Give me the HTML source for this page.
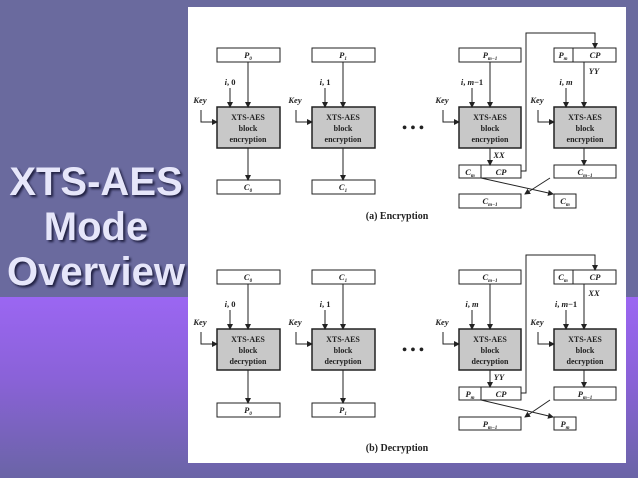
<!DOCTYPE html>
<html><head><meta charset="utf-8"><style>
html,body{margin:0;padding:0;}
body{width:638px;height:478px;overflow:hidden;position:relative;background:#6a6a9e;font-family:"Liberation Sans",sans-serif;}
.low{position:absolute;left:0;top:297px;width:638px;height:181px;background:linear-gradient(#9b66f2 0%,#8a62d8 45%,#6a64a6 100%);}
.title{position:absolute;left:0;top:160px;width:192px;text-align:center;color:#e6e6fa;font-weight:bold;font-size:40px;line-height:45px;text-shadow:2px 2px 2px #222244;}
svg{position:absolute;left:0;top:0;}
</style></head><body>
<div class="low"></div>
<div class="title">XTS-AES<br>Mode<br>Overview</div>
<svg width="638" height="478" viewBox="0 0 638 478" font-family="Liberation Serif, serif" font-weight="bold">
<defs><marker id="a" markerWidth="6" markerHeight="6" refX="5" refY="3" orient="auto" markerUnits="userSpaceOnUse"><path d="M0,0 L6,3 L0,6z" fill="#222"/></marker></defs>
<rect x="188" y="7" width="438" height="456" fill="#fff"/>
<g id="enc" stroke="#222" stroke-width="1" fill="none">
 <rect x="217" y="48" width="63" height="14"/><rect x="312" y="48" width="63" height="14"/>
 <rect x="459" y="48" width="62" height="14"/><rect x="554" y="48" width="62" height="14"/><line x1="573" y1="48" x2="573" y2="62"/>
 <rect x="217" y="107" width="63" height="41" fill="#c8c8c8" stroke-width="1.5"/><rect x="312" y="107" width="63" height="41" fill="#c8c8c8" stroke-width="1.5"/>
 <rect x="459" y="107" width="62" height="41" fill="#c8c8c8" stroke-width="1.5"/><rect x="554" y="107" width="62" height="41" fill="#c8c8c8" stroke-width="1.5"/>
 <rect x="217" y="180" width="63" height="14"/><rect x="312" y="180" width="63" height="14"/>
 <rect x="459" y="165" width="62" height="13"/><line x1="481" y1="165" x2="481" y2="178"/>
 <rect x="554" y="165" width="62" height="13"/>
 <rect x="459" y="194" width="62" height="14"/><rect x="554" y="194" width="22" height="14"/>
 <line x1="248" y1="62" x2="248" y2="107" marker-end="url(#a)"/><line x1="343" y1="62" x2="343" y2="107" marker-end="url(#a)"/>
 <line x1="490" y1="62" x2="490" y2="107" marker-end="url(#a)"/><line x1="584" y1="62" x2="584" y2="107" marker-end="url(#a)"/>
 <line x1="230" y1="88" x2="230" y2="107" marker-end="url(#a)"/><line x1="325" y1="88" x2="325" y2="107" marker-end="url(#a)"/>
 <line x1="472" y1="88" x2="472" y2="107" marker-end="url(#a)"/><line x1="566" y1="88" x2="566" y2="107" marker-end="url(#a)"/>
 <path d="M201,110 V122 H217" marker-end="url(#a)"/><path d="M296,110 V122 H312" marker-end="url(#a)"/>
 <path d="M443,110 V122 H459" marker-end="url(#a)"/><path d="M538,110 V122 H554" marker-end="url(#a)"/>
 <line x1="248" y1="148" x2="248" y2="180" marker-end="url(#a)"/><line x1="343" y1="148" x2="343" y2="180" marker-end="url(#a)"/>
 <line x1="490" y1="148" x2="490" y2="165" marker-end="url(#a)"/><line x1="584" y1="148" x2="584" y2="165" marker-end="url(#a)"/>
 <path d="M521,171 H526 V33 H595 V48" marker-end="url(#a)"/>
 <line x1="481" y1="178" x2="553" y2="194" marker-end="url(#a)"/><line x1="550" y1="178" x2="525" y2="194" marker-end="url(#a)"/>
</g>
<g font-size="8.5" fill="#222" text-anchor="middle">
 <text x="248" y="58" font-style="italic">P<tspan font-size="5" dy="2">0</tspan></text>
 <text x="343" y="58" font-style="italic">P<tspan font-size="5" dy="2">1</tspan></text>
 <text x="490" y="58" font-style="italic">P<tspan font-size="5" dy="2">m−1</tspan></text>
 <text x="563" y="58" font-style="italic">P<tspan font-size="5" dy="2">m</tspan></text>
 <text x="595" y="58" font-style="italic">CP</text>
 <text x="230" y="85"><tspan font-style="italic">i</tspan>, 0</text><text x="325" y="85"><tspan font-style="italic">i</tspan>, 1</text>
 <text x="472" y="85"><tspan font-style="italic">i</tspan>, <tspan font-style="italic">m</tspan>−1</text><text x="566" y="85"><tspan font-style="italic">i</tspan>, <tspan font-style="italic">m</tspan></text>
 <text x="594" y="74" font-style="italic">YY</text><text x="499" y="158" font-style="italic">XX</text>
 <text x="200" y="103" font-style="italic">Key</text><text x="295" y="103" font-style="italic">Key</text><text x="442" y="103" font-style="italic">Key</text><text x="537" y="103" font-style="italic">Key</text>
 <g font-size="8"><text x="248" y="120">XTS-AES</text><text x="248" y="131">block</text><text x="248" y="142">encryption</text>
 <text x="343" y="120">XTS-AES</text><text x="343" y="131">block</text><text x="343" y="142">encryption</text>
 <text x="490" y="120">XTS-AES</text><text x="490" y="131">block</text><text x="490" y="142">encryption</text>
 <text x="585" y="120">XTS-AES</text><text x="585" y="131">block</text><text x="585" y="142">encryption</text></g>
 <text x="248" y="190" font-style="italic">C<tspan font-size="5" dy="2">0</tspan></text><text x="343" y="190" font-style="italic">C<tspan font-size="5" dy="2">1</tspan></text>
 <text x="470" y="175" font-style="italic">C<tspan font-size="5" dy="2">m</tspan></text><text x="501" y="175" font-style="italic">CP</text>
 <text x="585" y="175" font-style="italic">C<tspan font-size="5" dy="2">m−1</tspan></text>
 <text x="490" y="204" font-style="italic">C<tspan font-size="5" dy="2">m−1</tspan></text><text x="565" y="204" font-style="italic">C<tspan font-size="5" dy="2">m</tspan></text>
 <text x="413" y="132" font-size="14">•  •  •</text>
 <text x="397" y="219" font-size="10" font-weight="bold">(a) Encryption</text>
</g>
<g transform="translate(0,222)">
<g stroke="#222" stroke-width="1" fill="none">
 <rect x="217" y="48" width="63" height="14"/><rect x="312" y="48" width="63" height="14"/>
 <rect x="459" y="48" width="62" height="14"/><rect x="554" y="48" width="62" height="14"/><line x1="573" y1="48" x2="573" y2="62"/>
 <rect x="217" y="107" width="63" height="41" fill="#c8c8c8" stroke-width="1.5"/><rect x="312" y="107" width="63" height="41" fill="#c8c8c8" stroke-width="1.5"/>
 <rect x="459" y="107" width="62" height="41" fill="#c8c8c8" stroke-width="1.5"/><rect x="554" y="107" width="62" height="41" fill="#c8c8c8" stroke-width="1.5"/>
 <rect x="217" y="181" width="63" height="14"/><rect x="312" y="181" width="63" height="14"/>
 <rect x="459" y="165" width="62" height="13"/><line x1="481" y1="165" x2="481" y2="178"/>
 <rect x="554" y="165" width="62" height="13"/>
 <rect x="459" y="195" width="62" height="13"/><rect x="554" y="195" width="22" height="13"/>
 <line x1="248" y1="62" x2="248" y2="107" marker-end="url(#a)"/><line x1="343" y1="62" x2="343" y2="107" marker-end="url(#a)"/>
 <line x1="490" y1="62" x2="490" y2="107" marker-end="url(#a)"/><line x1="584" y1="62" x2="584" y2="107" marker-end="url(#a)"/>
 <line x1="230" y1="88" x2="230" y2="107" marker-end="url(#a)"/><line x1="325" y1="88" x2="325" y2="107" marker-end="url(#a)"/>
 <line x1="472" y1="88" x2="472" y2="107" marker-end="url(#a)"/><line x1="566" y1="88" x2="566" y2="107" marker-end="url(#a)"/>
 <path d="M201,110 V122 H217" marker-end="url(#a)"/><path d="M296,110 V122 H312" marker-end="url(#a)"/>
 <path d="M443,110 V122 H459" marker-end="url(#a)"/><path d="M538,110 V122 H554" marker-end="url(#a)"/>
 <line x1="248" y1="148" x2="248" y2="181" marker-end="url(#a)"/><line x1="343" y1="148" x2="343" y2="181" marker-end="url(#a)"/>
 <line x1="490" y1="148" x2="490" y2="165" marker-end="url(#a)"/><line x1="584" y1="148" x2="584" y2="165" marker-end="url(#a)"/>
 <path d="M521,171 H526 V33 H595 V48" marker-end="url(#a)"/>
 <line x1="481" y1="178" x2="553" y2="195" marker-end="url(#a)"/><line x1="550" y1="178" x2="525" y2="195" marker-end="url(#a)"/>
</g>
<g font-size="8.5" fill="#222" text-anchor="middle">
 <text x="248" y="58" font-style="italic">C<tspan font-size="5" dy="2">0</tspan></text>
 <text x="343" y="58" font-style="italic">C<tspan font-size="5" dy="2">1</tspan></text>
 <text x="490" y="58" font-style="italic">C<tspan font-size="5" dy="2">m−1</tspan></text>
 <text x="563" y="58" font-style="italic">C<tspan font-size="5" dy="2">m</tspan></text>
 <text x="595" y="58" font-style="italic">CP</text>
 <text x="230" y="85"><tspan font-style="italic">i</tspan>, 0</text><text x="325" y="85"><tspan font-style="italic">i</tspan>, 1</text>
 <text x="472" y="85"><tspan font-style="italic">i</tspan>, <tspan font-style="italic">m</tspan></text><text x="566" y="85"><tspan font-style="italic">i</tspan>, <tspan font-style="italic">m</tspan>−1</text>
 <text x="594" y="74" font-style="italic">XX</text><text x="499" y="158" font-style="italic">YY</text>
 <text x="200" y="103" font-style="italic">Key</text><text x="295" y="103" font-style="italic">Key</text><text x="442" y="103" font-style="italic">Key</text><text x="537" y="103" font-style="italic">Key</text>
 <g font-size="8"><text x="248" y="120">XTS-AES</text><text x="248" y="131">block</text><text x="248" y="142">decryption</text>
 <text x="343" y="120">XTS-AES</text><text x="343" y="131">block</text><text x="343" y="142">decryption</text>
 <text x="490" y="120">XTS-AES</text><text x="490" y="131">block</text><text x="490" y="142">decryption</text>
 <text x="585" y="120">XTS-AES</text><text x="585" y="131">block</text><text x="585" y="142">decryption</text></g>
 <text x="248" y="191" font-style="italic">P<tspan font-size="5" dy="2">0</tspan></text><text x="343" y="191" font-style="italic">P<tspan font-size="5" dy="2">1</tspan></text>
 <text x="470" y="175" font-style="italic">P<tspan font-size="5" dy="2">m</tspan></text><text x="501" y="175" font-style="italic">CP</text>
 <text x="585" y="175" font-style="italic">P<tspan font-size="5" dy="2">m−1</tspan></text>
 <text x="490" y="205" font-style="italic">P<tspan font-size="5" dy="2">m−1</tspan></text><text x="565" y="205" font-style="italic">P<tspan font-size="5" dy="2">m</tspan></text>
 <text x="413" y="132" font-size="14">•  •  •</text>
 <text x="397" y="229" font-size="10" font-weight="bold">(b) Decryption</text>
</g>
</g>
</svg>
</body></html>
